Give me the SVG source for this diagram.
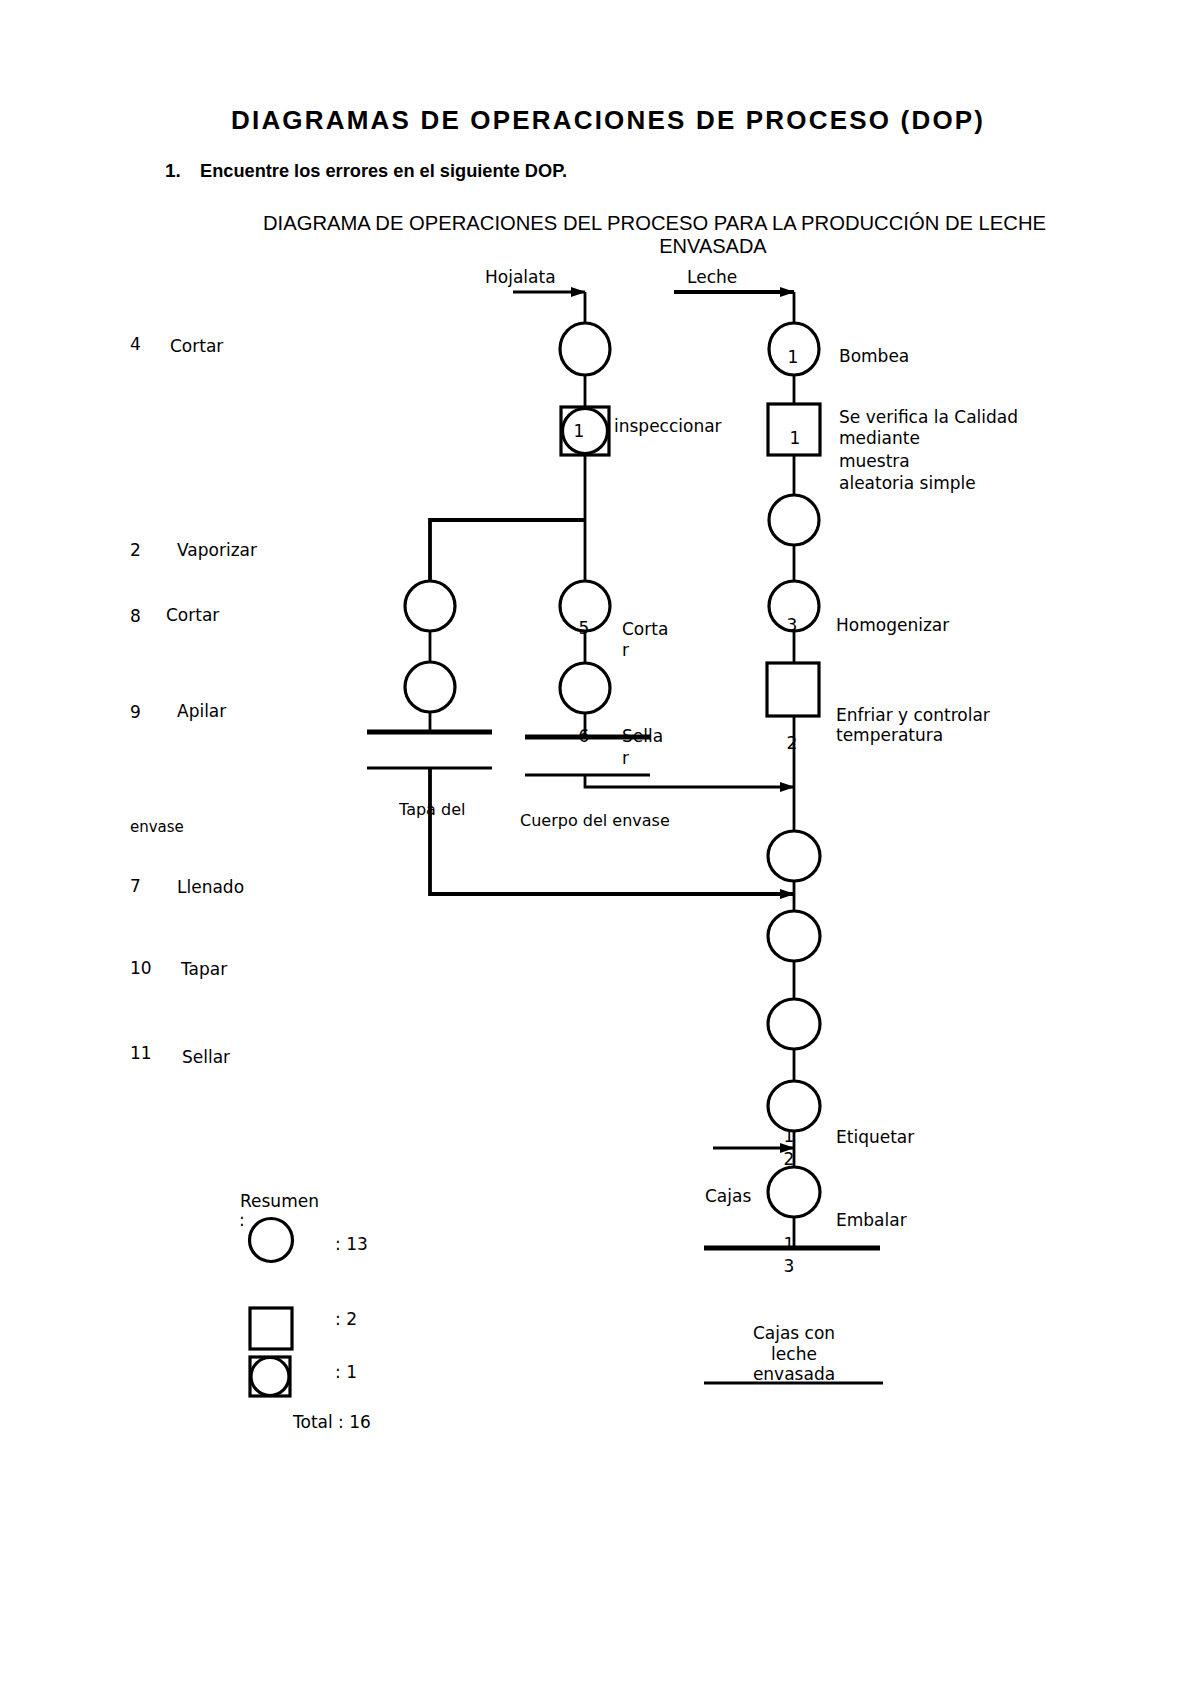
<svg xmlns="http://www.w3.org/2000/svg" width="1200" height="1698" viewBox="0 0 1200 1698">
<defs>
<marker id="arr" markerWidth="15" markerHeight="10" refX="14" refY="5" orient="auto" markerUnits="userSpaceOnUse"><path d="M0,0 L15,5 L0,10 z" fill="#000"/></marker>
</defs>
<style>
.t{font-family:"DejaVu Sans",Verdana,sans-serif;font-size:17px;fill:#000}
.s{font-size:15px}
.m{text-anchor:middle}
.op{fill:#fff;stroke:#000;stroke-width:3.2}
.ln{stroke:#000;stroke-width:2.8;fill:none}
.th{stroke:#000;stroke-width:3.8;fill:none}
.bar{stroke:#000;stroke-width:4.8;fill:none}
.bar2{stroke:#000;stroke-width:3.2;fill:none}
</style>
<rect width="1200" height="1698" fill="#fff"/>

<g id="headings">
<text x="231" y="129" font-family="Liberation Sans,Arial,sans-serif" font-weight="bold" font-size="26" textLength="752" lengthAdjust="spacing">DIAGRAMAS DE OPERACIONES DE PROCESO (DOP)</text>
<text x="165" y="177" font-family="Liberation Sans Narrow,Liberation Sans,Arial,sans-serif" font-weight="bold" font-size="19">1.</text>
<text x="200" y="177" font-family="Liberation Sans Narrow,Liberation Sans,Arial,sans-serif" font-weight="bold" font-size="19" textLength="367" lengthAdjust="spacingAndGlyphs">Encuentre los errores en el siguiente DOP.</text>
<text x="263" y="230" font-family="Liberation Sans,Arial,sans-serif" font-size="20" textLength="783" lengthAdjust="spacingAndGlyphs">DIAGRAMA DE OPERACIONES DEL PROCESO PARA LA PRODUCCIÓN DE LECHE</text>
<text x="713" y="253" font-family="Liberation Sans,Arial,sans-serif" font-size="20" text-anchor="middle">ENVASADA</text>
</g>

<g id="connectors">
<path class="ln" d="M513,292 H585" marker-end="url(#arr)"/>
<path class="th" d="M674,292 H794" marker-end="url(#arr)"/>
<path class="ln" d="M585,292 V737"/>
<path class="th" d="M430,580 V520 H585"/>
<path class="ln" d="M430,580 V732"/>
<path class="ln" d="M794,292 V1248"/>
<path class="th" d="M430,768 V894 H794" marker-end="url(#arr)"/>
<path class="ln" d="M585,775 V787 H794" marker-end="url(#arr)"/>
<path class="ln" d="M713,1148 H794" marker-end="url(#arr)"/>
<path class="bar" d="M367,732 H492"/>
<path class="bar2" d="M367,768 H492"/>
<path class="bar" d="M525,737 H650"/>
<path class="bar2" d="M525,775 H650"/>
<path class="bar" d="M704,1248 H880"/>
<path class="ln" d="M704,1383 H883"/>
</g>

<g id="n-hojalata"><text class="t" x="485" y="283">Hojalata</text></g>
<g id="n-leche"><text class="t" x="687" y="283">Leche</text></g>

<g id="n-hojalata-op"><ellipse class="op" cx="585" cy="349" rx="25" ry="26"/></g>
<g id="n-inspeccionar"><rect class="op" x="561" y="407" width="48" height="48"/><circle class="op" cx="585" cy="431" r="22.5"/><text class="t" x="579" y="437" text-anchor="middle">1</text><text class="t" x="614" y="432">inspeccionar</text></g>

<g id="n-bombea"><ellipse class="op" cx="794" cy="349" rx="25" ry="26"/><text class="t m" x="793" y="363">1</text><text class="t" x="839" y="362">Bombea</text></g>
<g id="n-verifica"><rect class="op" x="768" y="404" width="52" height="51"/><text class="t m" x="795" y="444">1</text>
<text class="t" x="839" y="423">Se verifica la Calidad</text><text class="t" x="839" y="444">mediante</text><text class="t" x="839" y="467">muestra</text><text class="t" x="839" y="489">aleatoria simple</text></g>
<g id="n-r3"><ellipse class="op" cx="794" cy="520" rx="25" ry="25"/></g>
<g id="n-homogenizar"><ellipse class="op" cx="794" cy="606" rx="25" ry="25"/><text class="t m" x="792" y="631">3</text><text class="t" x="836" y="631">Homogenizar</text></g>
<g id="n-enfriar"><rect class="op" x="767" y="663" width="52" height="53"/><text class="t m" x="792" y="749">2</text><text class="t" x="836" y="721">Enfriar y controlar</text><text class="t" x="836" y="741">temperatura</text></g>

<g id="n-l1"><ellipse class="op" cx="430" cy="606" rx="25" ry="25"/></g>
<g id="n-l2"><ellipse class="op" cx="430" cy="687" rx="25" ry="25"/></g>
<g id="n-m1"><ellipse class="op" cx="585" cy="606" rx="25" ry="25"/><text class="t m" x="584" y="634">5</text><text class="t" x="622" y="635">Corta</text><text class="t" x="622" y="656">r</text></g>
<g id="n-m2"><ellipse class="op" cx="585" cy="688" rx="25" ry="25"/><text class="t m" x="584" y="742">6</text><text class="t" x="622" y="742">Sella</text><text class="t" x="622" y="764">r</text></g>

<g id="n-tapa-label"><text class="t" x="399" y="815" style="font-size:16px">Tapa del</text></g>
<g id="n-cuerpo-label"><text class="t" x="520" y="826" style="font-size:16px">Cuerpo del envase</text></g>

<g id="n-r7"><ellipse class="op" cx="794" cy="856" rx="26" ry="25"/></g>
<g id="n-r8"><ellipse class="op" cx="794" cy="936" rx="26" ry="25"/></g>
<g id="n-r9"><ellipse class="op" cx="794" cy="1024" rx="26" ry="25"/></g>
<g id="n-etiquetar"><text class="t m" x="789" y="1165">2</text><ellipse class="op" cx="794" cy="1106" rx="26" ry="25"/><text class="t m" x="789" y="1142">1</text><text class="t" x="836" y="1143">Etiquetar</text></g>
<g id="n-embalar"><ellipse class="op" cx="794" cy="1192" rx="26" ry="25"/><text class="t" x="705" y="1202">Cajas</text><text class="t" x="836" y="1226">Embalar</text><text class="t m" x="789" y="1250">1</text><text class="t m" x="789" y="1272">3</text></g>
<g id="n-final"><text class="t m" x="794" y="1339">Cajas con</text><text class="t m" x="794" y="1360">leche</text><text class="t m" x="794" y="1380">envasada</text></g>

<g id="left-labels">
<text class="t" x="130" y="350">4</text><text class="t" x="170" y="352">Cortar</text>
<text class="t" x="130" y="556">2</text><text class="t" x="177" y="556">Vaporizar</text>
<text class="t" x="130" y="622">8</text><text class="t" x="166" y="621">Cortar</text>
<text class="t" x="130" y="718">9</text><text class="t" x="177" y="717">Apilar</text>
<text class="t s" x="130" y="832">envase</text>
<text class="t" x="130" y="892">7</text><text class="t" x="177" y="893">Llenado</text>
<text class="t" x="130" y="974">10</text><text class="t" x="181" y="975">Tapar</text>
<text class="t" x="130" y="1059">11</text><text class="t" x="182" y="1063">Sellar</text>
</g>

<g id="resumen">
<text class="t" x="240" y="1207">Resumen</text>
<text class="t" x="239" y="1226">:</text>
<circle class="op" cx="271" cy="1240" r="21.5"/>
<text class="t" x="335" y="1250">: 13</text>
<rect class="op" x="250" y="1308" width="42" height="41"/>
<text class="t" x="335" y="1325">: 2</text>
<rect class="op" x="250" y="1357" width="40" height="39"/>
<circle class="op" cx="270" cy="1376.5" r="19"/>
<text class="t" x="335" y="1378">: 1</text>
<text class="t" x="293" y="1428">Total : 16</text>
</g>
</svg>
